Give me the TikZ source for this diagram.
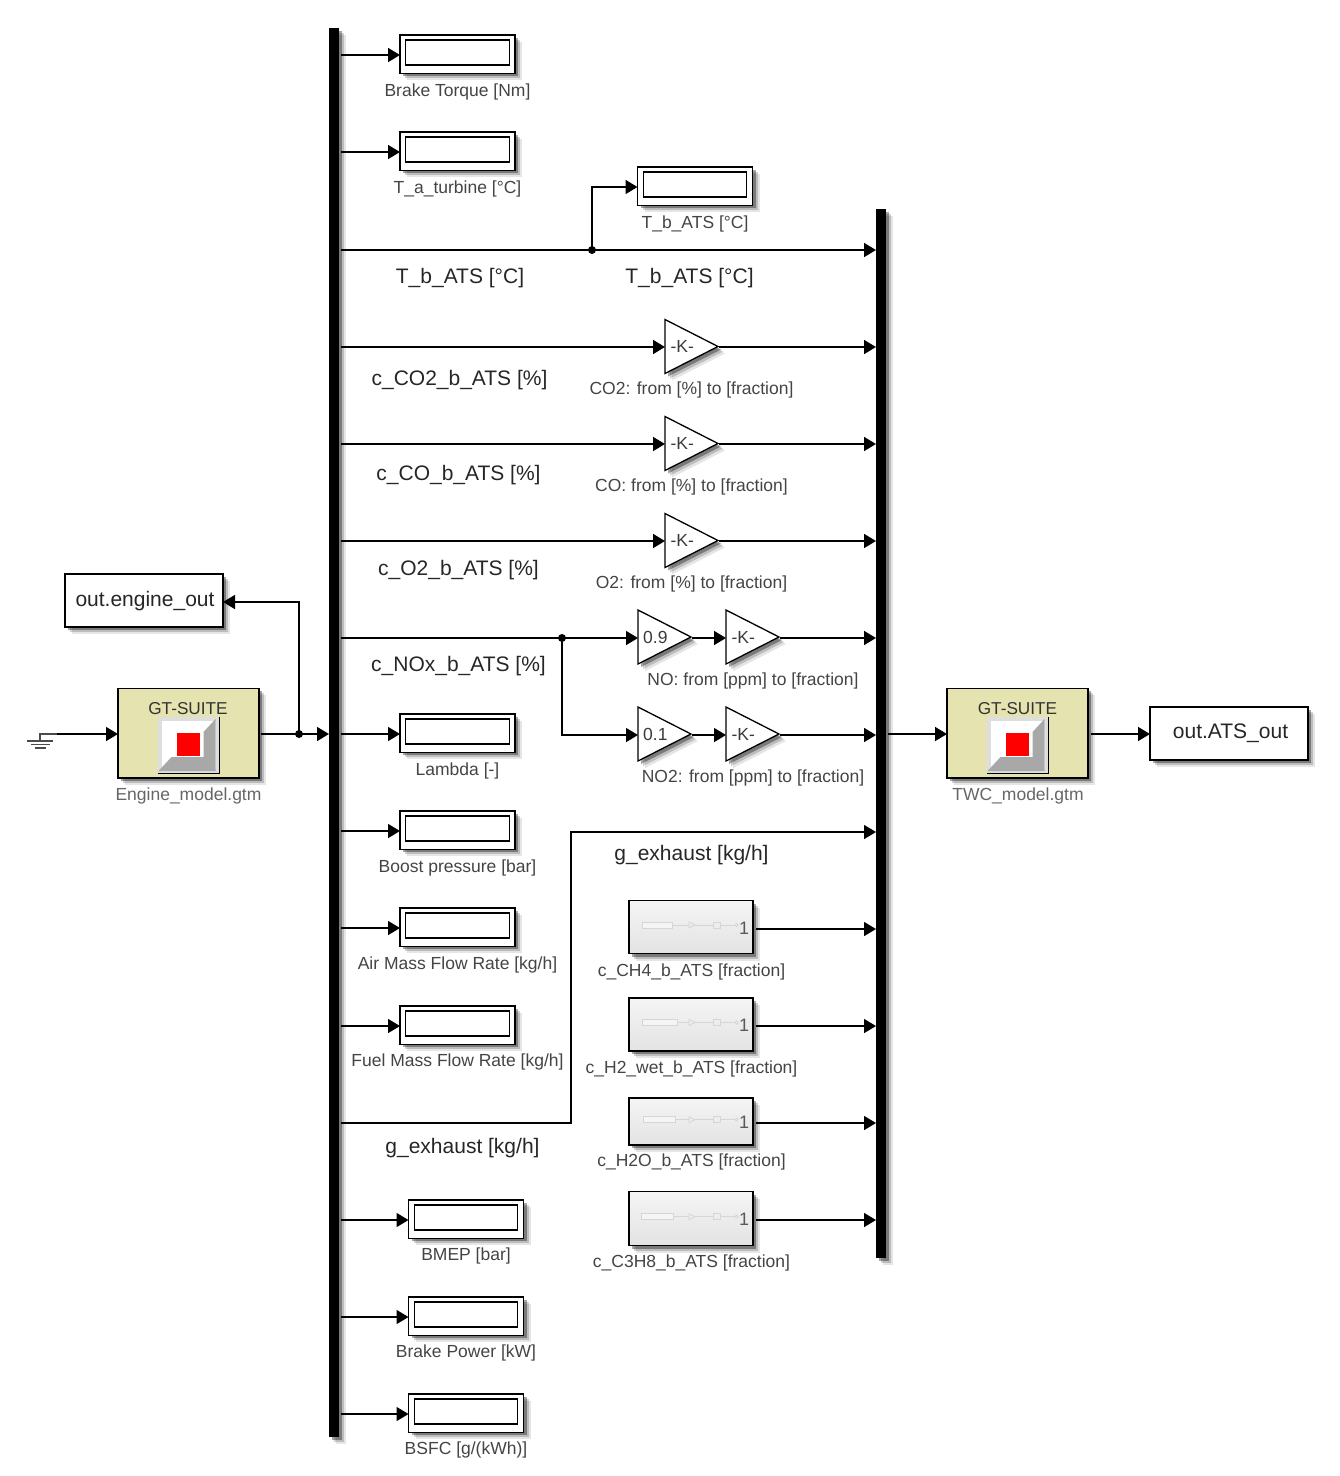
\documentclass[tikz,border=0pt]{standalone}
\usepackage{fontspec}
\setmainfont{Liberation Sans}
\usetikzlibrary{arrows.meta,shapes.geometric,shadows,calc}
\definecolor{gtfill}{HTML}{E5E3B0}
\definecolor{lab}{HTML}{3A3A3A}
\definecolor{lab2}{HTML}{444444}
\definecolor{mini}{HTML}{D6D6D6}
\tikzset{
  softshadow/.style={drop shadow={shadow xshift=7pt,shadow yshift=-7pt,opacity=.10,fill=black},
                     drop shadow={shadow xshift=5pt,shadow yshift=-5pt,opacity=.18,fill=black},
                     drop shadow={shadow xshift=3pt,shadow yshift=-3pt,opacity=.35,fill=black}},
  base/.style={draw=black,line width=1.5pt,inner sep=0pt,outer sep=0pt,fill=white},
  bus/.style={fill=black,inner sep=0pt,outer sep=0pt,minimum width=10pt,softshadow},
  dispbox/.style={base,minimum width=115pt,minimum height=38.5pt,softshadow},
  dispin/.style={base,line width=1.3pt,minimum width=103.5pt,minimum height=25pt},
  gain/.style={base,isosceles triangle,isosceles triangle stretches,shape border rotate=0,
     minimum width=54pt,minimum height=53pt,anchor=west,softshadow,line width=1.3pt,
     font=\fontsize{17.5}{20}\selectfont,text=lab},
  outbox/.style={base,minimum width=158pt,minimum height=53pt,softshadow,
     font=\fontsize{21}{24}\selectfont,text=black!85},
  gtbox/.style={base,fill=gtfill,minimum width=141pt,minimum height=89.5pt,softshadow},
  subsys/.style={draw=black,line width=1.5pt,inner sep=0pt,outer sep=0pt,minimum width=124pt,
     top color=white!96!black,bottom color=white!89!black,softshadow},
  blabel/.style={inner sep=0pt,yshift=-2pt,font=\fontsize{17.5}{20}\selectfont,text=lab2},
  siglabel/.style={inner sep=0pt,yshift=-2pt,font=\fontsize{21}{24}\selectfont,text=black!85},
  gttext/.style={inner sep=0pt,yshift=-1pt,font=\fontsize{17.2}{20}\selectfont,text=black!80},
  sig/.style={line width=1.6pt,-{Triangle[length=12pt,width=14pt]}},
  wire/.style={line width=1.6pt},
  dot/.style={circle,fill=black,inner sep=0pt,outer sep=0pt,minimum size=8pt},
  ministroke/.style={draw=mini,line width=.8pt},
}
\newcommand{\gtbutton}[1]{%
  \coordinate (bc) at ($(#1)+(0,12)$);
  \fill[white!87!black] ($(bc)+(-31,-28)$) rectangle ($(bc)+(30,28)$);
  \fill[white] ($(bc)+(-27,-24)$) rectangle ($(bc)+(27,24)$);
  \fill[white!66!black] ($(bc)+(27,-26)$) -- ($(bc)+(27,26)$) -- ($(bc)+(-30,26)$) -- ($(bc)+(-17,12)$) -- ($(bc)+(15,12)$) -- ($(bc)+(15,-13)$) -- cycle;
  \draw[black,line width=1.6pt] ($(bc)+(31,-28)$) -- ($(bc)+(31,28.5)$) -- ($(bc)+(-31,28.5)$);
  \fill[red] ($(bc)+(-11.5,-12)$) rectangle ($(bc)+(11.5,10.5)$);
}
% #1 block, #2 left of small rectangle, #3 right of small rectangle (offsets from the block centre)
\newcommand{\miniicon}[3]{%
  \coordinate (mc) at ($(#1)+(0,-2)$);
  \draw[ministroke,fill=white!96!black] ($(mc)+(#2,-3)$) rectangle ($(mc)+(#3,3)$);
  \draw[ministroke] ($(mc)+(#3,0)$) -- ($(mc)+(-2,0)$);
  \draw[ministroke] ($(mc)+(-2,-3)$) -- ($(mc)+(4,0)$) -- ($(mc)+(-2,3)$) -- cycle;
  \draw[ministroke] ($(mc)+(4,0)$) -- ($(mc)+(22,0)$);
  \draw[ministroke] ($(mc)+(22,-3)$) rectangle ($(mc)+(29,3)$);
  \draw[ministroke] ($(mc)+(29,0)$) -- ($(mc)+(44,0)$);
  \draw[ministroke] ($(mc)+(45.5,0)$) circle (1.7pt);
  \node[inner sep=0pt,font=\fontsize{18}{18}\selectfont,text=black!65] at ($(mc)+(53,3)$) {1};
}
\begin{document}
\begin{tikzpicture}[x=1pt,y=-1pt]
\useasboundingbox (0,0) rectangle (1340,1476);
% buses
\node[bus,minimum height=1409pt] (L) at (334,732.5) {};
\node[bus,minimum height=1049pt] (R) at (881,733.5) {};
% displays
\node[dispbox] (d1) at (457.5,54) {};
\node[dispbox] (d2) at (457.5,151) {};
\node[dispbox] (d3) at (457.5,733) {};
\node[dispbox] (d4) at (457.5,830) {};
\node[dispbox] (d5) at (457.5,927) {};
\node[dispbox] (d6) at (457.5,1025) {};
\node[dispbox] (d7) at (466,1219) {};
\node[dispbox] (d8) at (466,1316) {};
\node[dispbox] (d9) at (466,1413) {};
\node[dispbox] (d0) at (695,186) {};
\foreach \n in {d1,d2,d3,d4,d5,d6,d7,d8,d9,d0}
  \node[dispin] at ($(\n)+(0,-1.5)$) {};
\node[blabel] at (457.5,90) {Brake Torque [Nm]};
\node[blabel] at (457.5,187) {T\_a\_turbine [°C]};
\node[blabel] at (457.5,769) {Lambda [-]};
\node[blabel] at (457.5,866) {Boost pressure [bar]};
\node[blabel] at (457.5,963) {Air Mass Flow Rate [kg/h]};
\node[blabel] at (457.5,1060) {Fuel Mass Flow Rate [kg/h]};
\node[blabel] at (466,1254) {BMEP [bar]};
\node[blabel] at (466,1351) {Brake Power [kW]};
\node[blabel] at (466,1448) {BSFC [g/(kWh)]};
\node[blabel] at (695,222) {T\_b\_ATS [°C]};
% gains
\node[gain] (gco2) at (665,346.5) {-K-};
\node[gain] (gco) at (665,443.5) {-K-};
\node[gain] (go2) at (665,540.5) {-K-};
\node[gain] (g09) at (638,637) {0.9};
\node[gain] (gno) at (726,637) {-K-};
\node[gain] (g01) at (638,734) {0.1};
\node[gain] (gno2) at (726,734) {-K-};
\node[blabel] at (691.5,388) {CO2: from [\%] to [fraction]};
\node[blabel] at (691.5,485) {CO: from [\%] to [fraction]};
\node[blabel] at (691.5,582) {O2: from [\%] to [fraction]};
\node[blabel] at (753,679) {NO: from [ppm] to [fraction]};
\node[blabel] at (753,776) {NO2: from [ppm] to [fraction]};
% subsystems
\node[subsys,minimum height=53pt] (s1) at (691,927) {};
\node[subsys,minimum height=53pt] (s2) at (691,1024.5) {};
\node[subsys,minimum height=47pt] (s3) at (691,1121.7) {};
\node[subsys,minimum height=54pt] (s4) at (691,1218.7) {};
\miniicon{s1}{-49}{-19}
\miniicon{s2}{-49}{-14}
\miniicon{s3}{-48}{-16}
\miniicon{s4}{-50}{-18}
\node[blabel] at (691.5,970) {c\_CH4\_b\_ATS [fraction]};
\node[blabel] at (691.5,1067) {c\_H2\_wet\_b\_ATS [fraction]};
\node[blabel] at (691.5,1160) {c\_H2O\_b\_ATS [fraction]};
\node[blabel] at (691.5,1261) {c\_C3H8\_b\_ATS [fraction]};
% GT blocks
\node[gtbox] (gt1) at (188.5,733) {};
\node[gtbox] (gt2) at (1017.5,733) {};
\gtbutton{gt1}
\gtbutton{gt2}
\node[gttext] at (188,708) {GT-SUITE};
\node[gttext] at (1017.5,708) {GT-SUITE};
\node[blabel,text=black!60] at (188.5,794) {Engine\_model.gtm};
\node[blabel,text=black!60] at (1018,794) {TWC\_model.gtm};
% outports
\node[outbox] (o1) at (144,600.7) {\hspace*{2pt}\raisebox{-1.5pt}{out.engine\_out}};
\node[outbox] (o2) at (1229,733.3) {\hspace*{3pt}\raisebox{-1.5pt}{out.ATS\_out}};
% signal labels
\node[siglabel] at (460,276) {T\_b\_ATS [°C]};
\node[siglabel] at (689.5,276) {T\_b\_ATS [°C]};
\node[siglabel] at (459.5,378) {c\_CO2\_b\_ATS [\%]};
\node[siglabel] at (458.5,473) {c\_CO\_b\_ATS [\%]};
\node[siglabel] at (458.5,568) {c\_O2\_b\_ATS [\%]};
\node[siglabel] at (458.5,664) {c\_NOx\_b\_ATS [\%]};
\node[siglabel] at (691.5,853) {g\_exhaust [kg/h]};
\node[siglabel] at (462.5,1146) {g\_exhaust [kg/h]};
% ground
\coordinate (gnd) at (40,734);
\coordinate (gnd2) at (57,734);
\draw[line width=1.2pt,draw=black!70] (27,741) -- (53,741) (31,744.5) -- (50,744.5) (35,748) -- (46,748) (40,741) -- (gnd) -- (gnd2);
\draw[sig] (gnd2) -- (gt1.west |- gnd2);
% left bus to displays
\foreach \n in {d1,d2,d3,d4,d5,d6,d7,d8,d9}
  \draw[sig] ([xshift=2pt,yshift=-1pt]L.east |- \n.west) -- ([yshift=-1pt]\n.west);
% engine output
\coordinate (j1) at (299,734);
\coordinate (c1) at (299,602);
\coordinate (c2) at (240,602);
\draw[wire] ([xshift=2pt]gt1.east |- j1) -- (j1);
\draw[sig] (j1) -- (L.west |- j1);
\draw[wire] (j1) -- (c1) -- (c2);
\draw[sig] (c2) -- (o1.east |- c2);
\node[dot] at (j1) {};
% T_b_ATS
\coordinate (j2) at (592,250);
\coordinate (c3) at (592,187);
\draw[sig] ([xshift=2pt]L.east |- j2) -- (R.west |- j2);
\draw[sig] (j2) -- (c3) -- (d0.west |- c3);
\node[dot] at (j2) {};
% gains
\foreach \g/\yy in {gco2/347,gco/444,go2/541} {
  \coordinate (t) at (0,\yy);
  \draw[sig] ([xshift=2pt]L.east |- t) -- (\g.west |- t);
  \draw[sig] ([xshift=1pt]\g.east |- t) -- (R.west |- t);
}
\coordinate (j3) at (562,638);
\coordinate (c4) at (562,735);
\draw[wire] ([xshift=2pt]L.east |- j3) -- (j3);
\draw[sig] (j3) -- (g09.west |- j3);
\draw[sig] (j3) -- (c4) -- (g01.west |- c4);
\node[dot] at (j3) {};
\draw[sig] ([xshift=1pt]g09.east |- j3) -- (gno.west |- j3);
\draw[sig] ([xshift=1pt]g01.east |- c4) -- (gno2.west |- c4);
\draw[sig] ([xshift=1pt]gno.east |- j3) -- (R.west |- j3);
\draw[sig] ([xshift=1pt]gno2.east |- c4) -- (R.west |- c4);
% g_exhaust
\coordinate (b1) at (571,1123);
\coordinate (b2) at (571,832);
\draw[sig] ([xshift=2pt]L.east |- b1) -- (b1) -- (b2) -- (R.west |- b2);
% subsystems to bus
\foreach \n/\yy in {s1/929,s2/1026,s3/1123,s4/1220} {
  \coordinate (t) at (0,\yy);
  \draw[sig] ([xshift=3pt]\n.east |- t) -- (R.west |- t);
}
% right side
\coordinate (r1) at (0,734);
\draw[sig] ([xshift=2pt]R.east |- r1) -- (gt2.west |- r1);
\draw[sig] ([xshift=3pt]gt2.east |- r1) -- (o2.west |- r1);
\end{tikzpicture}
\end{document}
